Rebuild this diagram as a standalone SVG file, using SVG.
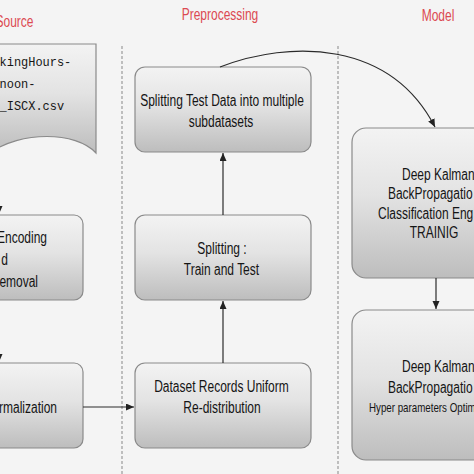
<svg xmlns="http://www.w3.org/2000/svg" width="474" height="474" viewBox="0 0 474 474">
<defs>
<linearGradient id="gbox" x1="0" y1="0" x2="0" y2="1">
<stop offset="0" stop-color="#f3f3f3"/>
<stop offset="0.45" stop-color="#e3e3e3"/>
<stop offset="1" stop-color="#bdbdbd"/>
</linearGradient>
<marker id="ah" markerUnits="userSpaceOnUse" markerWidth="9" markerHeight="8" refX="8" refY="3.5" orient="auto">
<path d="M0,0 L8,3.5 L0,7 z" fill="#222"/>
</marker>
<style>
.box{fill:url(#gbox);stroke:#8a8a8a;stroke-width:1.2}
.t{font-family:"Liberation Sans",Arial,sans-serif;font-size:16px;fill:#151515}
.m{font-family:"Liberation Mono","Courier New",monospace;font-size:13px;fill:#151515}
.h{font-family:"Liberation Sans",Arial,sans-serif;font-size:16px;fill:#dc4a52}
.c{fill:none;stroke:#2a2a2a;stroke-width:1.2}
.d{stroke:#9a9a9a;stroke-width:1.2;stroke-dasharray:3 2}
</style>
</defs>
<rect width="474" height="474" fill="#f4f4f4"/>
<g id="lanes">
<line class="d" x1="122" y1="46" x2="122" y2="474"/>
<line class="d" x1="338" y1="46" x2="338" y2="474"/>
<text class="h" transform="scale(0.75 1)" x="-6" y="27">Source</text>
<text class="h" transform="scale(0.75 1)" x="293.3" y="20" text-anchor="middle">Preprocessing</text>
<text class="h" transform="scale(0.75 1)" x="584" y="21" text-anchor="middle">Model</text>
</g>
<g id="doc">
<path class="box" d="M-10,44 L96,44 L96,153 C76,131 20,131 -10,153 Z"/>
<text class="m" transform="scale(0.92 1)" x="-0.5" y="66">kingHours-</text>
<text class="m" transform="scale(0.92 1)" x="-0.5" y="88">noon-</text>
<text class="m" transform="scale(0.92 1)" x="-0.5" y="110">_ISCX.csv</text>
</g>
<g id="encoding">
<rect class="box" x="-100" y="215" width="183" height="85" rx="9"/>
<text class="t" transform="scale(0.75 1)" x="62.7" y="243" text-anchor="end">Encoding</text>
<text class="t" transform="scale(0.75 1)" x="10.7" y="265" text-anchor="end">d</text>
<text class="t" transform="scale(0.75 1)" x="50.7" y="287" text-anchor="end">emoval</text>
</g>
<g id="normalization">
<rect class="box" x="-100" y="363" width="183" height="85" rx="9"/>
<text class="t" transform="scale(0.75 1)" x="76" y="413" text-anchor="end">rmalization</text>
</g>
<g id="splitTest">
<rect class="box" x="135" y="67" width="176" height="85" rx="10"/>
<text class="t" transform="scale(0.75 1)" x="296" y="106" text-anchor="middle">Splitting Test Data into multiple</text>
<text class="t" transform="scale(0.75 1)" x="294.7" y="127" text-anchor="middle">subdatasets</text>
</g>
<g id="splitting">
<rect class="box" x="135" y="215" width="176" height="85" rx="10"/>
<text class="t" transform="scale(0.75 1)" x="296" y="254" text-anchor="middle">Splitting :</text>
<text class="t" transform="scale(0.75 1)" x="295.3" y="275" text-anchor="middle">Train and Test</text>
</g>
<g id="uniform">
<rect class="box" x="135" y="363" width="176" height="85" rx="10"/>
<text class="t" transform="scale(0.75 1)" x="295.3" y="392" text-anchor="middle">Dataset Records Uniform</text>
<text class="t" transform="scale(0.75 1)" x="296" y="413" text-anchor="middle">Re-distribution</text>
</g>
<g id="training">
<rect class="box" x="352" y="128" width="170" height="150" rx="14"/>
<text class="t" transform="scale(0.75 1)" x="536" y="180">Deep Kalman</text>
<text class="t" transform="scale(0.75 1)" x="517.3" y="199">BackPropagatio</text>
<text class="t" transform="scale(0.75 1)" x="504" y="219">Classification Eng</text>
<text class="t" transform="scale(0.75 1)" x="578.7" y="238" text-anchor="middle">TRAINIG</text>
</g>
<g id="optim">
<rect class="box" x="352" y="310" width="170" height="150" rx="14"/>
<text class="t" transform="scale(0.75 1)" x="536" y="372">Deep Kalman</text>
<text class="t" transform="scale(0.75 1)" x="517.3" y="393">BackPropagatio</text>
<text class="t" transform="scale(0.75 1)" x="492" y="412" style="font-size:13px">Hyper parameters Optim</text>
</g>
<g id="connectors">
<path class="c" d="M-1,153 L-1,214" marker-end="url(#ah)"/>
<path class="c" d="M-1,300 L-1,362" marker-end="url(#ah)"/>
<path class="c" d="M83,407 L134,407" marker-end="url(#ah)"/>
<path class="c" d="M223,363 L223,301" marker-end="url(#ah)"/>
<path class="c" d="M223,215 L223,153" marker-end="url(#ah)"/>
<path class="c" d="M220,67 C290,40 390,40 435,127" marker-end="url(#ah)"/>
<path class="c" d="M436,278 L436,309" marker-end="url(#ah)"/>
</g>
</svg>
